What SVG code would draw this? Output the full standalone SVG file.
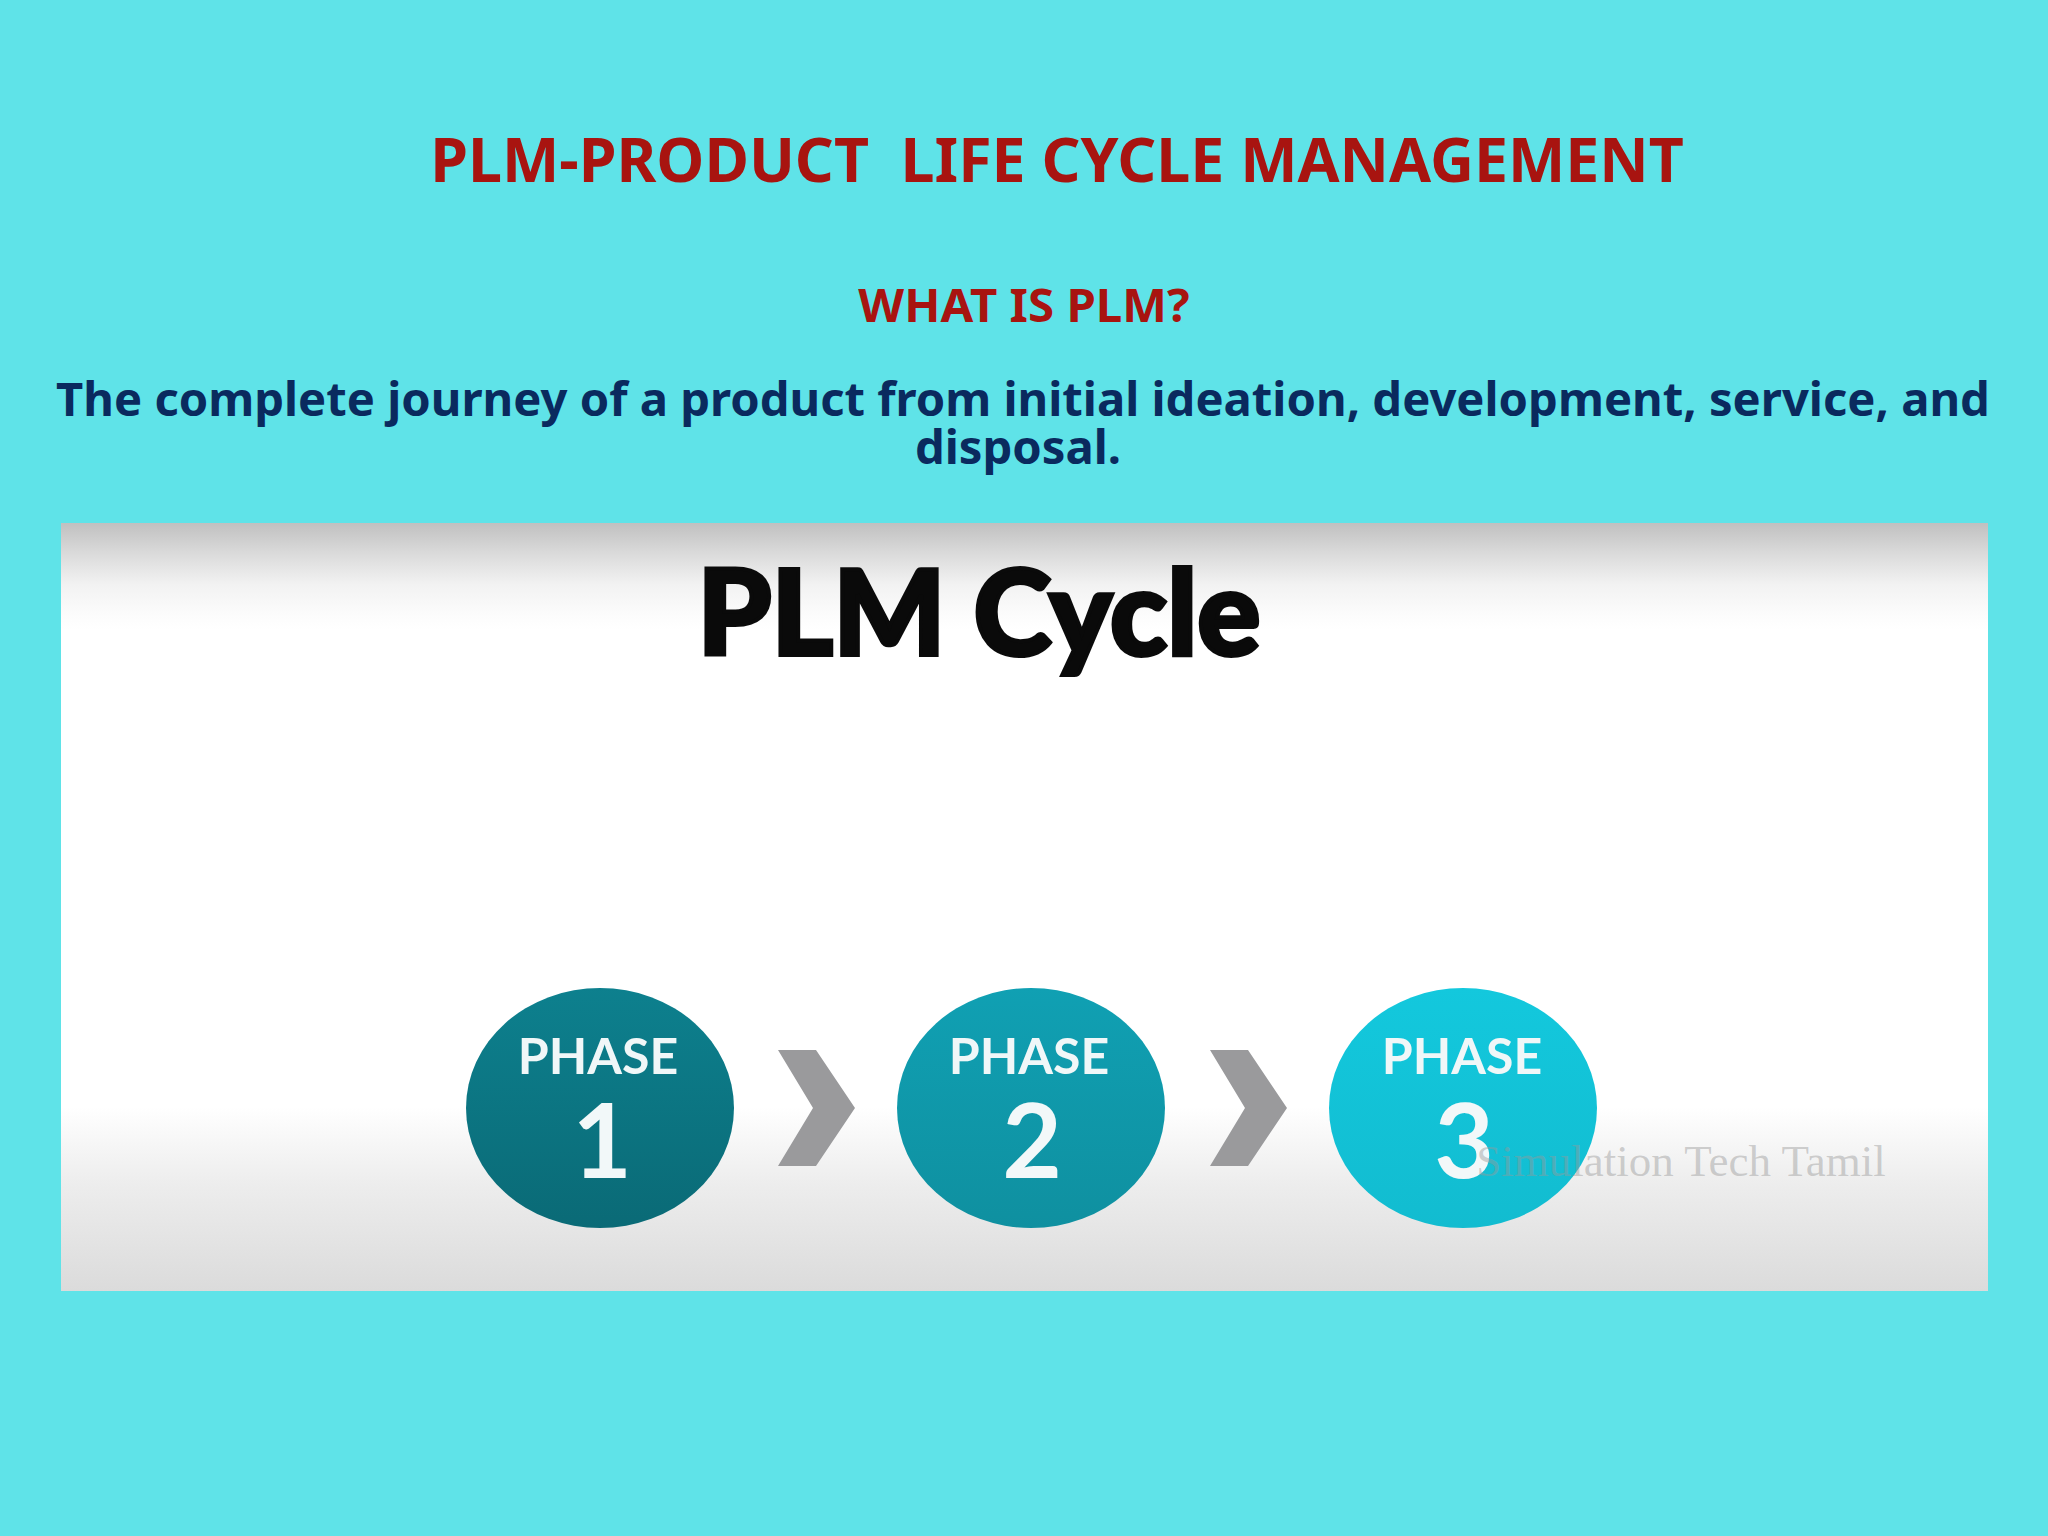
<svg xmlns="http://www.w3.org/2000/svg" width="2048" height="1536" viewBox="0 0 2048 1536">
<defs>
<style>
.h{font-family:"Noto Sans","Open Sans",sans-serif;font-weight:700;text-anchor:middle;white-space:pre}
.ph{font-family:"Lato","Open Sans",sans-serif;font-weight:700;font-size:50px;fill:#f0f7f8;text-anchor:middle}
.n{font-family:"Lato","Open Sans",sans-serif;font-weight:700;font-size:103px;fill:#f2f8f9;text-anchor:middle}
</style>
<linearGradient id="pic" x1="0" y1="0" x2="0" y2="1">
<stop offset="0" stop-color="#c0c0c0"/><stop offset="0.036" stop-color="#d8d8d8"/><stop offset="0.08" stop-color="#f2f2f2"/><stop offset="0.12" stop-color="#fcfcfc"/><stop offset="0.14" stop-color="#fff"/><stop offset="0.76" stop-color="#fff"/><stop offset="0.86" stop-color="#ededed"/><stop offset="1" stop-color="#dbdbdb"/>
</linearGradient>
<linearGradient id="c1" x1="0" y1="0" x2="0" y2="1"><stop offset="0" stop-color="#0d808e"/><stop offset="1" stop-color="#0a6a76"/></linearGradient>
<linearGradient id="c2" x1="0" y1="0" x2="0" y2="1"><stop offset="0" stop-color="#10a0b3"/><stop offset="1" stop-color="#0f90a0"/></linearGradient>
<linearGradient id="c3" x1="0" y1="0" x2="0" y2="1"><stop offset="0" stop-color="#13c8dd"/><stop offset="1" stop-color="#12bcd0"/></linearGradient>
<path id="chev" d="M0 0H38L77 58L38 116H0L35 58Z" fill="#9a9a9c"/>
</defs>
<rect width="2048" height="1536" fill="#5fe3e8"/>
<text class="h" x="1057" y="182" font-size="60.8" fill="#a81410">PLM-PRODUCT  LIFE CYCLE MANAGEMENT</text>
<text class="h" x="1024" y="322" font-size="47.4" fill="#a81410">WHAT IS PLM?</text>
<text class="h" font-size="47.2" fill="#0a2a5e"><tspan x="1023" y="416">The complete journey of a product from initial ideation, development, service, and</tspan><tspan x="1018" y="464">disposal.</tspan></text>
<g id="picture">
<rect x="61" y="523" width="1927" height="768" fill="url(#pic)"/>
<text x="979" y="655" font-family="Lato,sans-serif" font-weight="900" font-size="118" fill="#0a0a0a" stroke="#0a0a0a" stroke-width="4" text-anchor="middle">PLM Cycle</text>
</g>
<g id="phase1"><ellipse cx="600" cy="1108" rx="134" ry="120" fill="url(#c1)"/><text class="ph" x="598" y="1074">PHASE</text><text class="n" x="602" y="1178">1</text></g>
<g id="phase2"><ellipse cx="1031" cy="1108" rx="134" ry="120" fill="url(#c2)"/><text class="ph" x="1029" y="1074">PHASE</text><text class="n" x="1032" y="1178">2</text></g>
<g id="phase3"><ellipse cx="1463" cy="1108" rx="134" ry="120" fill="url(#c3)"/><text class="ph" x="1462" y="1074">PHASE</text><text class="n" x="1464" y="1178">3</text></g>
<g id="connectors"><use href="#chev" x="778" y="1050"/><use href="#chev" x="1210" y="1050"/></g>
<text id="watermark" x="1681" y="1176" font-family="Liberation Serif,serif" font-size="45" fill="#999" fill-opacity="0.45" text-anchor="middle">Simulation Tech Tamil</text>
</svg>
